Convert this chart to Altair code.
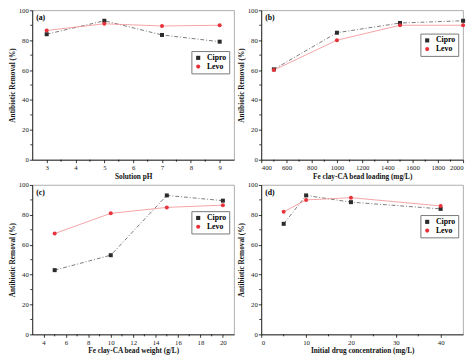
import altair as alt
import pandas as pd

series = ["Cipro", "Levo"]
y_ticks = [0, 20, 40, 60, 80, 100]
y_minor = [10, 30, 50, 70, 90]
y_title = "Antibiotic Removal (%)"

# (a) Solution pH
a_x = [3, 5, 7, 9]
a_cipro = [84, 93, 83.5, 79]
a_levo = [86.5, 91, 89.5, 90]
a_ticks = [3, 4, 5, 6, 7, 8, 9]
a_minor = [3.5, 4.5, 5.5, 6.5, 7.5, 8.5]
a_title = "Solution pH"

# (b) bead loading
b_x = [500, 1000, 1500, 2000]
b_cipro = [60.5, 85, 91.5, 93]
b_levo = [60, 80, 90, 90]
b_ticks = [400, 600, 800, 1000, 1200, 1400, 1600, 1800, 2000]
b_minor = [500, 700, 900, 1100, 1300, 1500, 1700, 1900]
b_title = "Fe clay-CA bead loading (mg/L)"

# (c) bead weight
c_x = [5, 10, 15, 20]
c_cipro = [43, 53, 93, 89.5]
c_levo = [67.5, 81, 85, 86.5]
c_ticks = [4, 6, 8, 10, 12, 14, 16, 18, 20]
c_minor = [5, 7, 9, 11, 13, 15, 17, 19]
c_title = "Fe clay-CA bead weight (g/L)"

# (d) initial concentration
d_x = [5, 10, 20, 40]
d_cipro = [74, 93, 88.5, 84]
d_levo = [82, 90, 91.5, 86]
d_ticks = [0, 10, 20, 30, 40]
d_minor = [5, 15, 25, 35]
d_title = "Initial drug concentration (mg/L)"

W = 208
H = 154
FONT = "Liberation Serif"
CIPRO_C = "#2b2b2b"
LEVO_C = "#e8323a"


def panel(xs, cipro, levo, xtitle, domain, ticks, minor, label, legend_y):
    df = pd.DataFrame({
        "x": xs + xs,
        "y": cipro + levo,
        "s": ["Cipro"] * len(xs) + ["Levo"] * len(xs),
    })
    xscale = alt.Scale(domain=domain, nice=False, zero=False)
    yscale = alt.Scale(domain=[0, 100], nice=False)
    xaxis = alt.Axis(values=ticks, title=xtitle, grid=False, format="d")
    yaxis = alt.Axis(values=y_ticks, title=y_title, grid=False, format="d")
    xenc = alt.X("x:Q", scale=xscale, axis=xaxis)
    yenc = alt.Y("y:Q", scale=yscale, axis=yaxis)
    base = alt.Chart(df)
    line_c = base.transform_filter(alt.datum.s == "Cipro").mark_line(
        color="#555555", strokeWidth=0.8, strokeDash=[4, 2, 1, 2]).encode(x=xenc, y=yenc)
    line_l = base.transform_filter(alt.datum.s == "Levo").mark_line(
        color="#f08a8e", strokeWidth=0.8).encode(x=xenc, y=yenc)
    leg = alt.Legend(title=None, orient="none", legendX=W - 44, legendY=legend_y,
                     strokeColor="#777777", fillColor="white", padding=3,
                     labelFont=FONT, labelFontWeight="bold", labelFontSize=8,
                     symbolSize=18, rowPadding=1, labelOffset=5)
    pts = base.mark_point(filled=True, size=17, opacity=1).encode(
        x=xenc, y=yenc,
        color=alt.Color("s:N", scale=alt.Scale(domain=series, range=[CIPRO_C, LEVO_C]), legend=leg),
        shape=alt.Shape("s:N", scale=alt.Scale(domain=series, range=["square", "circle"]), legend=leg),
    )
    xminor = alt.Chart(pd.DataFrame({"x": minor})).mark_rule(
        color="black", strokeWidth=0.8).encode(
        x=xenc, y=alt.value(H), y2=alt.value(H + 2))
    yminor = alt.Chart(pd.DataFrame({"y": y_minor})).mark_rule(
        color="black", strokeWidth=0.8).encode(
        y=yenc, x=alt.value(0), x2=alt.value(-2))
    lab = alt.Chart(pd.DataFrame({"t": [label]})).mark_text(
        font=FONT, fontWeight="bold", fontSize=8, align="left", baseline="middle"
    ).encode(text="t:N", x=alt.value(4), y=alt.value(8))
    return alt.layer(line_c, line_l, pts, xminor, yminor, lab).properties(width=W, height=H)


pa = panel(a_x, a_cipro, a_levo, a_title, [2.5, 9.5], a_ticks, a_minor, "(a)", 42)
pb = panel(b_x, b_cipro, b_levo, b_title, [400, 2000], b_ticks, b_minor, "(b)", 24)
pc = panel(c_x, c_cipro, c_levo, c_title, [3, 21], c_ticks, c_minor, "(c)", 27)
pd_ = panel(d_x, d_cipro, d_levo, d_title, [0, 45], d_ticks, d_minor, "(d)", 31)

row1 = alt.hconcat(pa, pb, spacing=2).resolve_scale(
    x="independent", color="independent", shape="independent"
).resolve_legend(color="independent", shape="independent")
row2 = alt.hconcat(pc, pd_, spacing=2).resolve_scale(
    x="independent", color="independent", shape="independent"
).resolve_legend(color="independent", shape="independent")

chart = alt.vconcat(row1, row2, spacing=0).resolve_scale(
    x="independent", color="independent", shape="independent"
).resolve_legend(color="independent", shape="independent").properties(
    padding={"top": -8, "left": 0, "right": 0, "bottom": 0}, background="white"
).configure_view(
    stroke="#999999", strokeWidth=0.8
).configure_axis(
    domainColor="black", tickColor="black", domainWidth=0.8, tickWidth=0.8,
    labelFont=FONT, labelFontSize=7, labelColor="#222222", labelPadding=1,
    titleFont=FONT, titleFontWeight="bold", titleFontSize=7.5, titleColor="#111111",
    titlePadding=2, tickSize=3,
)

chart.save("out.html", embed_options={"renderer": "svg", "actions": False})
